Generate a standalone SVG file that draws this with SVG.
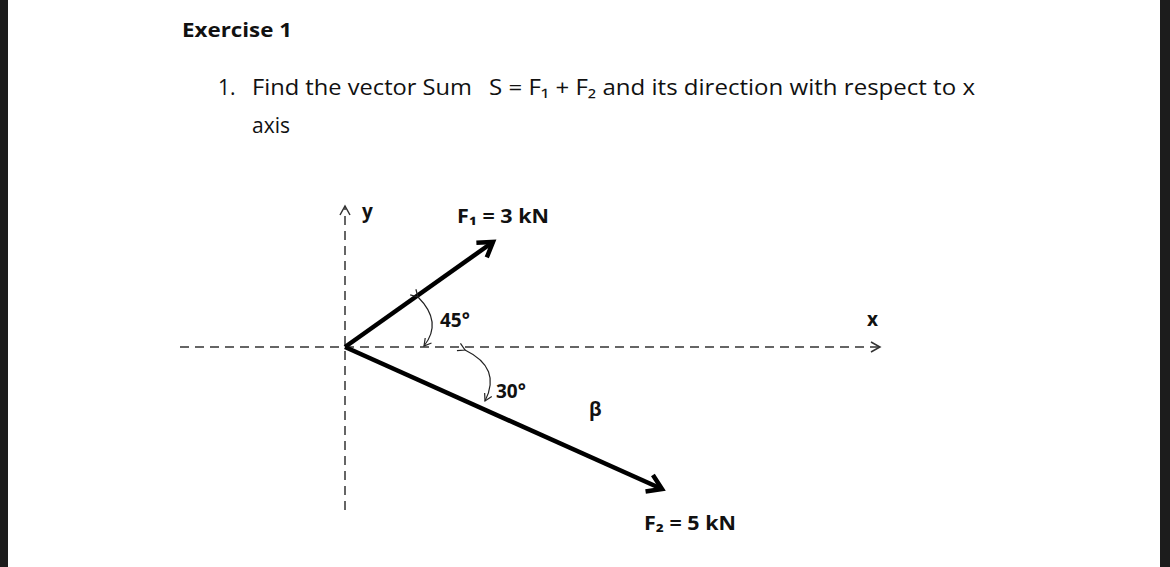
<svg xmlns="http://www.w3.org/2000/svg" width="1170" height="567" viewBox="0 0 1170 567">
<defs>
<style>
text{font-family:"Open Sans",Lato,"Liberation Sans",sans-serif;fill:#111}
.b{font-weight:bold;font-size:19px}
.n{font-size:21px}
.axis{stroke:#333;stroke-width:1.5;stroke-dasharray:9,6;fill:none}
.vec{stroke:#000;stroke-width:4.5;fill:none}
.arc{stroke:#222;stroke-width:1.2;fill:none}
</style>
<marker id="open" markerWidth="12" markerHeight="12" refX="10" refY="6" orient="auto" markerUnits="userSpaceOnUse"><path d="M1,1 L10,6 L1,11" fill="none" stroke="#333" stroke-width="1.5"/></marker>
<marker id="bold" markerWidth="24" markerHeight="24" refX="18" refY="12" orient="auto" markerUnits="userSpaceOnUse"><path d="M4,3 L18,12 L4,21" fill="none" stroke="#000" stroke-width="4.5"/></marker>
<marker id="small" markerWidth="10" markerHeight="10" refX="8" refY="5" orient="auto" markerUnits="userSpaceOnUse"><path d="M1,1 L8,5 L1,9" fill="none" stroke="#222" stroke-width="1.2"/></marker>
</defs>
<rect width="1170" height="567" fill="#fff"/>
<rect x="0" y="0" width="8" height="567" fill="#1c1c1c"/>
<rect x="1160" y="0" width="10" height="567" fill="#1c1c1c"/>
<text class="b" x="182" y="37" font-size="21" textLength="110" lengthAdjust="spacingAndGlyphs">Exercise 1</text>
<text class="n" x="218" y="95">1.</text>
<text class="n" x="252" y="95" textLength="220" lengthAdjust="spacingAndGlyphs">Find the vector Sum</text>
<text class="n" x="489" y="95" textLength="486" lengthAdjust="spacingAndGlyphs">S = F₁ + F₂ and its direction with respect to x</text>
<text class="n" x="252" y="133">axis</text>
<g id="connectors">
<line class="axis" x1="180" y1="347" x2="880" y2="347" marker-end="url(#open)"/>
<line class="axis" x1="345" y1="510" x2="345" y2="206" marker-end="url(#open)"/>
<line class="vec" x1="345" y1="347" x2="493" y2="242" marker-end="url(#bold)"/>
<line class="vec" x1="345" y1="347" x2="662" y2="489" marker-end="url(#bold)"/>
<path class="arc" d="M418,297 Q443,322 424,346" marker-start="url(#small)" marker-end="url(#small)"/>
<path class="arc" d="M465,350 Q502,368 485,401" marker-start="url(#small)" marker-end="url(#small)"/>
</g>
<g id="labels">
<text class="b" x="362" y="218">y</text>
<text class="b" x="457" y="223" textLength="92" lengthAdjust="spacingAndGlyphs">F₁ = 3 kN</text>
<text class="b" x="440" y="327">45°</text>
<text class="b" x="496" y="398">30°</text>
<text class="b" x="589" y="416">β</text>
<text class="b" x="867" y="326">x</text>
<text class="b" x="644" y="530" textLength="92" lengthAdjust="spacingAndGlyphs">F₂ = 5 kN</text>
</g>
</svg>
